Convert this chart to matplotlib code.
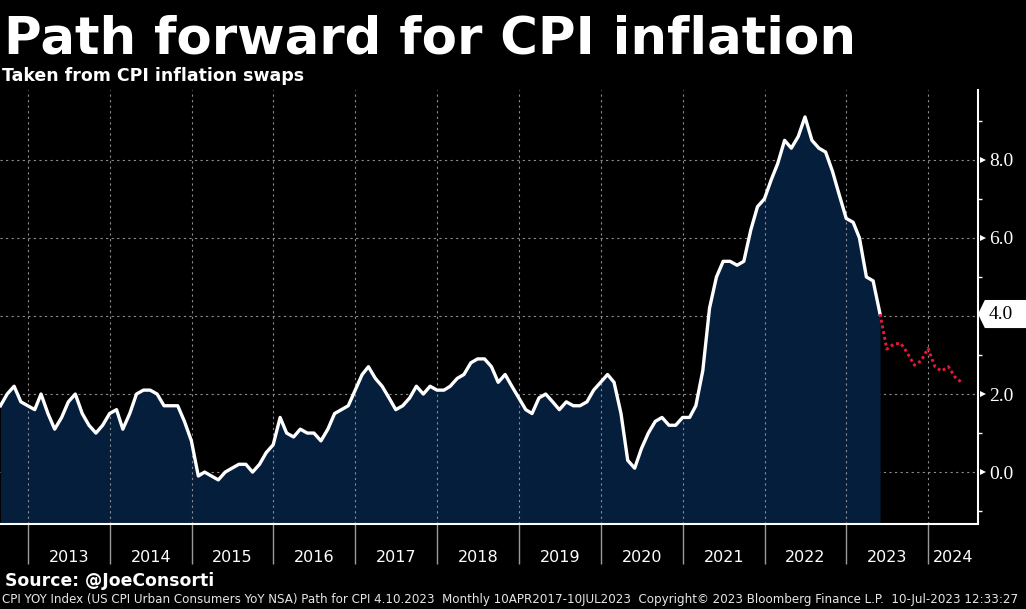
"""Path forward for CPI inflation -- Bloomberg-style dark chart (CPI YoY + swaps-implied path)."""

import matplotlib

matplotlib.use("Agg")
import matplotlib.dates as mdates
import matplotlib.pyplot as plt
import pandas as pd
from matplotlib.patches import Polygon
from matplotlib.transforms import blended_transform_factory

# US CPI YoY (NSA), monthly, Aug 2012 .. May 2023
first_month = "2012-08"
cpi_yoy = [
    1.7, 2.0, 2.2, 1.8, 1.7,  # 2012 Aug-Dec
    1.6, 2.0, 1.5, 1.1, 1.4, 1.8, 2.0, 1.5, 1.2, 1.0, 1.2, 1.5,  # 2013
    1.6, 1.1, 1.5, 2.0, 2.1, 2.1, 2.0, 1.7, 1.7, 1.7, 1.3, 0.8,  # 2014
    -0.1, 0.0, -0.1, -0.2, 0.0, 0.1, 0.2, 0.2, 0.0, 0.2, 0.5, 0.7,  # 2015
    1.4, 1.0, 0.9, 1.1, 1.0, 1.0, 0.8, 1.1, 1.5, 1.6, 1.7, 2.1,  # 2016
    2.5, 2.7, 2.4, 2.2, 1.9, 1.6, 1.7, 1.9, 2.2, 2.0, 2.2, 2.1,  # 2017
    2.1, 2.2, 2.4, 2.5, 2.8, 2.9, 2.9, 2.7, 2.3, 2.5, 2.2, 1.9,  # 2018
    1.6, 1.5, 1.9, 2.0, 1.8, 1.6, 1.8, 1.7, 1.7, 1.8, 2.1, 2.3,  # 2019
    2.5, 2.3, 1.5, 0.3, 0.1, 0.6, 1.0, 1.3, 1.4, 1.2, 1.2, 1.4,  # 2020
    1.4, 1.7, 2.6, 4.2, 5.0, 5.4, 5.4, 5.3, 5.4, 6.2, 6.8, 7.0,  # 2021
    7.5, 7.9, 8.5, 8.3, 8.6, 9.1, 8.5, 8.3, 8.2, 7.7, 7.1, 6.5,  # 2022
    6.4, 6.0, 5.0, 4.9, 4.05,  # 2023 Jan-May
]

# path implied by CPI swaps, Jun 2023 .. May 2024
forecast_first_month = "2023-06"
swaps_path = [3.15, 3.28, 3.3, 3.05, 2.74, 2.85, 3.17, 2.7, 2.59, 2.7, 2.43, 2.29]

y_ticks = [0.0, 2.0, 6.0, 8.0]
y_minor = [-1.0, 1.0, 3.0, 5.0, 7.0, 9.0]
years = list(range(2013, 2025))

title = "Path forward for CPI inflation"
subtitle = "Taken from CPI inflation swaps"
source = "Source: @JoeConsorti"
footer = ("CPI YOY Index (US CPI Urban Consumers YoY NSA) Path for CPI 4.10.2023  "
          "Monthly 10APR2017-10JUL2023  Copyright\u00a9 2023 Bloomberg Finance L.P.  "
          "10-Jul-2023 12:33:27")

FILL = "#051e3b"
RED = "#e8173a"
GRID = "#8c8c8c"


def month_ends(first, n):
    return pd.period_range(first, periods=n, freq="M").to_timestamp(how="end").normalize()


def main():
    fig = plt.figure(figsize=(10.26, 6.09), dpi=100, facecolor="black")
    # plot area: x 0..978 px, y 90..524 px
    ax = fig.add_axes([0.0, 85 / 609, 978 / 1026, 434 / 609], facecolor="black")

    dates = month_ends(first_month, len(cpi_yoy))
    fdates = month_ends(forecast_first_month, len(swaps_path))
    ylo, yhi = -1.33, 9.79
    ax.set_ylim(ylo, yhi)
    ax.set_xlim(pd.Timestamp("2012-08-29"), pd.Timestamp("2024-08-10"))

    ax.fill_between(dates, cpi_yoy, ylo, color=FILL, lw=0, zorder=1)
    ax.plot(dates, cpi_yoy, color="white", lw=2.4, zorder=3, solid_joinstyle="round")
    # dotted path continues from the last print
    ax.plot([dates[-1]] + list(fdates), [cpi_yoy[-1]] + swaps_path,
            color=RED, lw=2.1, ls=(0, (1, 1)), zorder=3)

    # x axis: long gray ticks at year boundaries, year labels centred between them
    xmin, xmax = ax.get_xlim()
    bounds = [mdates.date2num(pd.Timestamp(f"{y}-01-01")) for y in years]
    ax.set_xticks(bounds)
    ax.set_xticklabels([])
    edges = [xmin] + bounds + [xmax]
    centers = [(a + b) / 2 for a, b in zip(edges[1:-1], edges[2:])]
    ax.set_xticks(centers, minor=True)
    ax.set_xticklabels([str(y) for y in years], minor=True)
    ax.tick_params(axis="x", which="major", length=29, width=1, color="#9a9a9a", direction="out")
    ax.tick_params(axis="x", which="minor", length=0, pad=19, labelsize=11.5, labelcolor="white")
    ax.grid(axis="x", which="major", color=GRID, ls=(0, (2, 3)), lw=0.8)

    # y axis on the right with triangle markers
    ax.yaxis.tick_right()
    ax.set_yticks(y_ticks)
    ax.set_yticklabels([f"{v:.1f}" for v in y_ticks], family="Liberation Serif")
    ax.set_yticks(y_minor, minor=True)
    ax.tick_params(axis="y", which="major", length=0, pad=8, labelsize=14, labelcolor="white")
    ax.tick_params(axis="y", which="minor", length=3, width=1, color="white", direction="out")
    for v in y_ticks + [4.0]:
        ax.axhline(v, color=GRID, ls=(0, (2, 3)), lw=0.8, zorder=0.5)
    trans = blended_transform_factory(ax.transAxes, ax.transData)
    ax.plot([1.005] * len(y_ticks), y_ticks, ">", color="white", ms=5, mew=0,
            transform=trans, clip_on=False)

    # callout tag for the last value
    last = cpi_yoy[-1]
    h = 0.36
    tag = Polygon([(1.0, last), (1.007, last + h), (1.06, last + h),
                   (1.06, last - h), (1.007, last - h)], closed=True,
                  transform=trans, facecolor="white", edgecolor="none", clip_on=False)
    ax.add_patch(tag)
    ax.text(1.011, last, f"{last:.1f}", transform=trans, color="black", fontsize=14,
            family="Liberation Serif", va="center", ha="left")

    for side in ("top", "left"):
        ax.spines[side].set_visible(False)
    for side in ("bottom", "right"):
        ax.spines[side].set_color("white")
        ax.spines[side].set_linewidth(1.5)

    fig.text(0.004, 1 - 54 / 609, title, color="white", fontsize=37, weight="bold",
             va="baseline", ha="left")
    fig.text(0.002, 1 - 81 / 609, subtitle, color="white", fontsize=12.5, weight="bold",
             va="baseline", ha="left")
    fig.text(0.005, 1 - 586 / 609, source, color="white", fontsize=12.4, weight="bold",
             va="baseline", ha="left")
    fig.text(0.002, 1 - 603 / 609, footer, color="#e6e6e6", fontsize=8.6,
             va="baseline", ha="left")

    fig.savefig("out.png", dpi=100, facecolor="black")


if __name__ == "__main__":
    main()
